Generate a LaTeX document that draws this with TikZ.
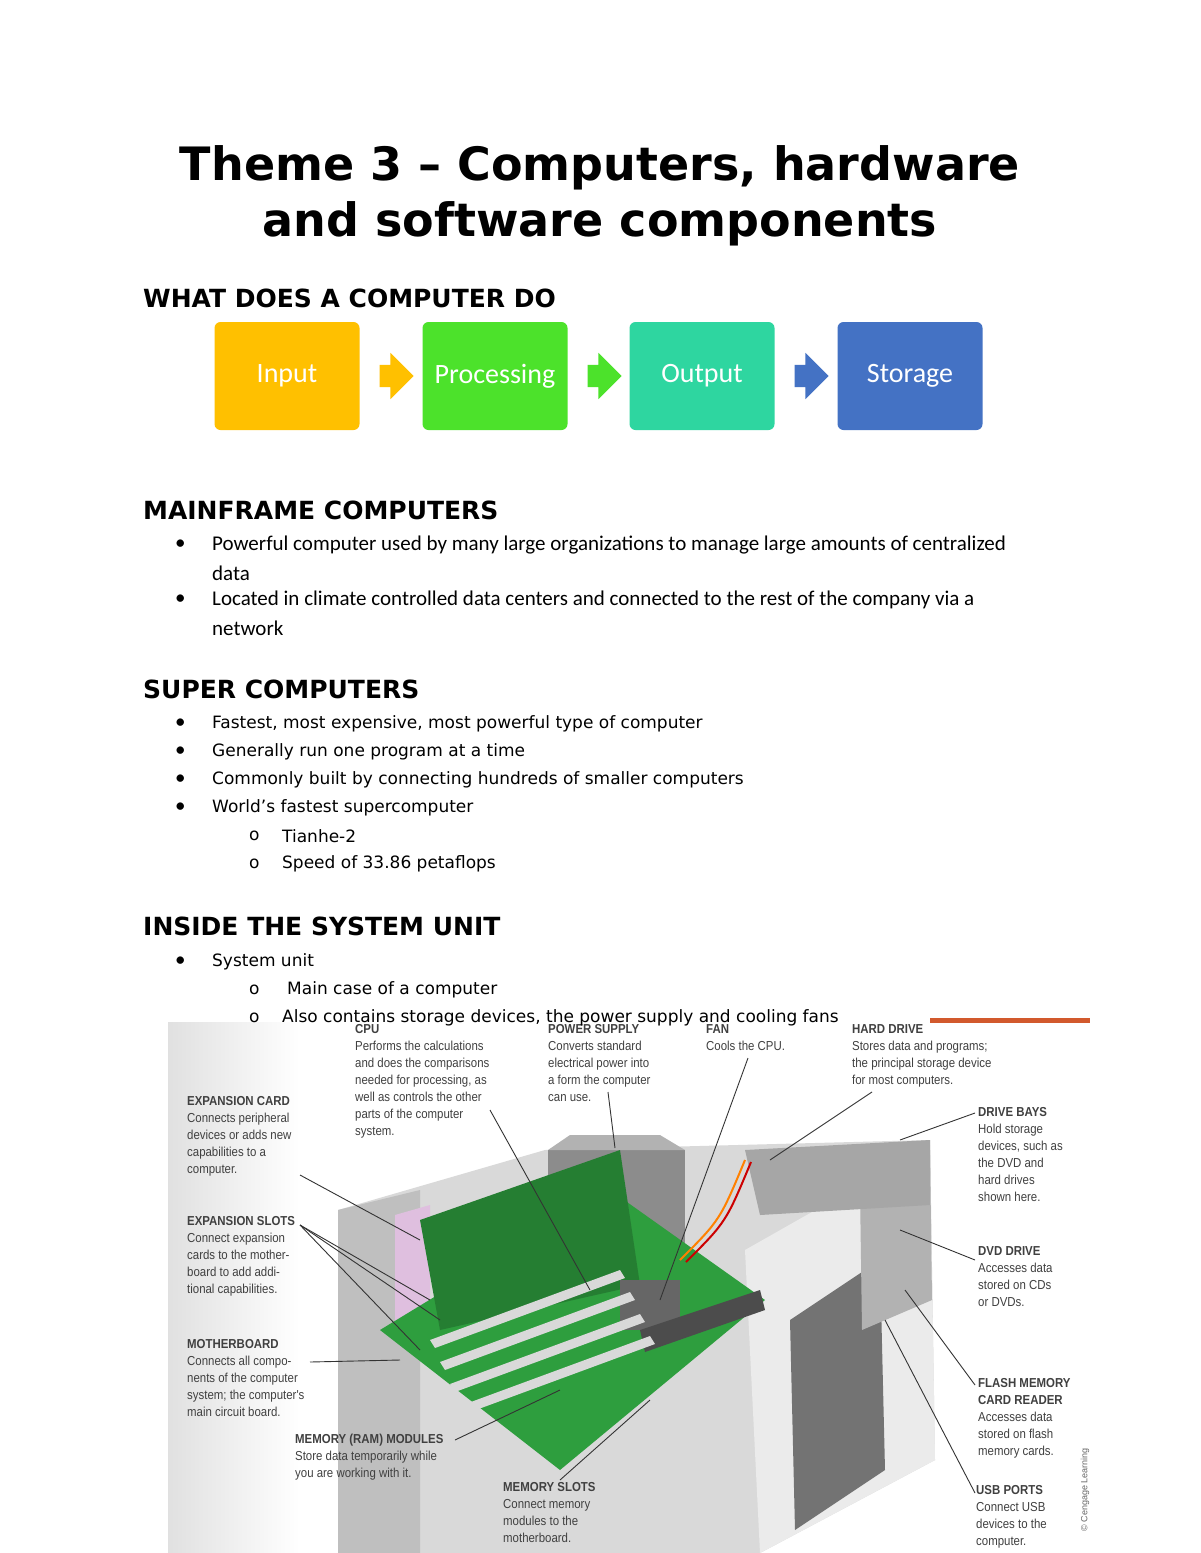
\documentclass[tikz,border=0pt]{standalone}
\usepackage{fontspec}
\setmainfont{Carlito}
\newfontfamily\dv{DejaVu Sans}
\newfontfamily\lib{Liberation Sans}
\usetikzlibrary{shapes.arrows}
\definecolor{cin}{HTML}{FFC000}
\definecolor{cpr}{HTML}{4CE22B}
\definecolor{cout}{HTML}{2ED6A0}
\definecolor{csto}{HTML}{4472C4}
\definecolor{pcb}{HTML}{2E9E3E}
\tikzset{
 flowbox/.style={rounded corners=6pt,minimum width=145pt,minimum height=108pt,inner sep=0,text=white,font=\fontsize{28}{30}\selectfont},
 farrow/.style={single arrow,minimum height=34pt,inner sep=11pt,single arrow head extend=12pt,draw=none},
 head/.style={anchor=west,inner sep=0,font=\dv\bfseries\fontsize{25}{30}\selectfont},
 body/.style={anchor=west,inner sep=0,font=\fontsize{21}{28}\selectfont},
 bodyv/.style={anchor=west,inner sep=0,font=\dv\fontsize{17}{28}\selectfont},
 lab/.style={anchor=north west,inner sep=0,align=left,font=\lib\fontsize{13}{17}\selectfont,xscale=0.88,text=black!75},
 ptr/.style={black!80,line width=0.9pt}
}
\begin{document}
\begin{tikzpicture}[x=1pt,y=-1pt]
\useasboundingbox (0,0) rectangle (1200,1553);
\fill[white] (0,0) rectangle (1200,1553);
% title
\node[align=center,inner sep=0,font=\dv\bfseries\fontsize{46}{56}\selectfont] (title) at (600,196) {Theme 3 – Computers, hardware\\and software components};
\node[head] (h1) at (143,298) {WHAT DOES A COMPUTER DO};
% flow
\node[flowbox,fill=cin] (in) at (287,376) {\raisebox{-3pt}{Input}};
\node[flowbox,fill=cpr] (pr) at (495,376) {\raisebox{-3pt}{Processing}};
\node[flowbox,fill=cout] (ou) at (702,376) {\raisebox{-3pt}{Output}};
\node[flowbox,fill=csto] (st) at (910,376) {\raisebox{-3pt}{Storage}};
\node[farrow,fill=cin] (a1) at (391,376) {};
\node[farrow,fill=cpr] (a2) at (599,376) {};
\node[farrow,fill=csto] (a3) at (806,376) {};
% mainframe
\node[head] (h2) at (143,510) {MAINFRAME COMPUTERS};
\foreach \y in {545,600} \node[body] at (175,\y) {\textbullet};
\node[body] (m1) at (212,545) {Powerful computer used by many large organizations to manage large amounts of centralized};
\node[body] (m1b) at (212,573) {data};
\node[body] (m2) at (212,600) {Located in climate controlled data centers and connected to the rest of the company via a};
\node[body] (m2b) at (212,628) {network};
% super
\node[head] (h3) at (143,689) {SUPER COMPUTERS};
\foreach \y in {724,752,780,808} \node[body] at (175,\y) {\textbullet};
\node[bodyv] (s1) at (212,724) {Fastest, most expensive, most powerful type of computer};
\node[bodyv] (s2) at (212,752) {Generally run one program at a time};
\node[bodyv] (s3) at (212,780) {Commonly built by connecting hundreds of smaller computers};
\node[bodyv] (s4) at (212,808) {World’s fastest supercomputer};
\node[bodyv] at (249,836) {o};
\node[bodyv] (s5) at (282,836) {Tianhe-2};
\node[bodyv] at (249,864) {o};
\node[bodyv] (s6) at (282,864) {Speed of 33.86 petaflops};
% inside
\node[head] (h4) at (143,926) {INSIDE THE SYSTEM UNIT};
\node[body] at (175,962) {\textbullet};
\node[bodyv] (u1) at (212,962) {System unit};
\node[bodyv] at (249,990) {o};
\node[bodyv] (u2) at (287,990) {Main case of a computer};
% photo
\shade[left color=black!12,right color=white] (168,1022) rectangle (300,1553);
\draw[brown!70!red,line width=5pt] (930,1020) -- (1090,1020);
% case
\fill[black!15] (338,1210) -- (545,1150) -- (930,1140) -- (935,1460) -- (760,1553) -- (338,1553) -- cycle;
\fill[black!25] (338,1210) -- (420,1190) -- (420,1553) -- (338,1553) -- cycle;
\fill[black!8] (745,1250) -- (930,1145) -- (935,1460) -- (760,1553) -- cycle;
\fill[black!55] (790,1320) -- (880,1260) -- (885,1470) -- (795,1530) -- cycle;
\fill[black!30] (860,1190) -- (930,1150) -- (932,1300) -- (862,1330) -- cycle;
% drive bays
\fill[black!35] (745,1150) -- (930,1140) -- (930,1205) -- (760,1215) -- cycle;
% power supply
\fill[black!45] (548,1150) -- (685,1150) -- (685,1265) -- (548,1265) -- cycle;
\fill[black!30] (548,1150) -- (685,1150) -- (660,1135) -- (570,1135) -- cycle;
% expansion plates
\fill[violet!25] (395,1215) -- (430,1205) -- (430,1330) -- (395,1340) -- cycle;
% motherboard
\fill[pcb] (380,1330) -- (610,1190) -- (765,1300) -- (560,1470) -- cycle;
\fill[pcb!80!black] (420,1220) -- (620,1150) -- (640,1285) -- (440,1330) -- cycle;
\fill[black!60] (620,1280) rectangle (680,1330);
\fill[black!70] (640,1330) -- (760,1290) -- (765,1310) -- (645,1352) -- cycle;
\foreach \i in {0,1,2,3} \fill[white!85!black] (430+\i*10,1340+\i*22) -- (620+\i*10,1270+\i*22) -- (625+\i*10,1278+\i*22) -- (435+\i*10,1348+\i*22) -- cycle;
\draw[orange,line width=2pt] (680,1260) .. controls (720,1220) .. (745,1160);
\draw[red!80!black,line width=2pt] (686,1262) .. controls (726,1222) .. (751,1162);
% parts coordinates
\coordinate (pcpu) at (590,1290);
\coordinate (ppsu) at (615,1148);
\coordinate (pfan) at (660,1300);
\coordinate (phd) at (770,1160);
\coordinate (pexc) at (420,1240);
\coordinate (pes1) at (430,1300);
\coordinate (pes2) at (440,1320);
\coordinate (pes3) at (420,1350);
\coordinate (pmb) at (400,1360);
\coordinate (pram) at (560,1390);
\coordinate (pms1) at (650,1400);
\coordinate (pdb) at (900,1140);
\coordinate (pdvd) at (900,1230);
\coordinate (pfl) at (905,1290);
\coordinate (pusb) at (885,1320);
% labels
\node[lab] (lcpu) at (355,1024) {\textbf{CPU}\\Performs the calculations\\and does the comparisons\\needed for processing, as\\well as controls the other\\parts of the computer\\system.};
\node[lab] (lpsu) at (548,1024) {\textbf{POWER SUPPLY}\\Converts standard\\electrical power into\\a form the computer\\can use.};
\node[lab] (lfan) at (706,1024) {\textbf{FAN}\\Cools the CPU.};
\node[lab] (lhd) at (852,1024) {\textbf{HARD DRIVE}\\Stores data and programs;\\the principal storage device\\for most computers.};
\node[lab] (lexc) at (187,1096) {\textbf{EXPANSION CARD}\\Connects peripheral\\devices or adds new\\capabilities to a\\computer.};
\node[lab] (les) at (187,1216) {\textbf{EXPANSION SLOTS}\\Connect expansion\\cards to the mother-\\board to add addi-\\tional capabilities.};
\node[lab] (lmb) at (187,1339) {\textbf{MOTHERBOARD}\\Connects all compo-\\nents of the computer\\system; the computer's\\main circuit board.};
\node[lab] (lram) at (295,1434) {\textbf{MEMORY (RAM) MODULES}\\Store data temporarily while\\you are working with it.};
\node[lab] (lms) at (503,1482) {\textbf{MEMORY SLOTS}\\Connect memory\\modules to the\\motherboard.};
\node[lab] (ldb) at (978,1107) {\textbf{DRIVE BAYS}\\Hold storage\\devices, such as\\the DVD and\\hard drives\\shown here.};
\node[lab] (ldvd) at (978,1246) {\textbf{DVD DRIVE}\\Accesses data\\stored on CDs\\or DVDs.};
\node[lab] (lfl) at (978,1378) {\textbf{FLASH MEMORY}\\\textbf{CARD READER}\\Accesses data\\stored on flash\\memory cards.};
\node[lab] (lusb) at (976,1485) {\textbf{USB PORTS}\\Connect USB\\devices to the\\computer.};
\node[rotate=90,inner sep=0,font=\lib\fontsize{9}{10}\selectfont,text=black!60] (cop) at (1085,1490) {© Cengage Learning};
% pointers
\draw[ptr] (490,1110) -- (pcpu);
\draw[ptr] (608,1092) -- (ppsu);
\draw[ptr] (748,1058) -- (pfan);
\draw[ptr] (872,1092) -- (phd);
\draw[ptr] (300,1175) -- (pexc);
\draw[ptr] (300,1225) -- (pes1);
\draw[ptr] (300,1225) -- (pes2);
\draw[ptr] (300,1225) -- (pes3);
\draw[ptr] (310,1362) -- (pmb);
\draw[ptr] (455,1440) -- (pram);
\draw[ptr] (560,1480) -- (pms1);
\draw[ptr] (975,1113) -- (pdb);
\draw[ptr] (975,1260) -- (pdvd);
\draw[ptr] (975,1385) -- (pfl);
\draw[ptr] (975,1493) -- (pusb);
% text line over photo
\node[bodyv] at (249,1018) {o};
\node[bodyv] (u3) at (282,1018) {Also contains storage devices, the power supply and cooling fans};
\end{tikzpicture}
\end{document}
